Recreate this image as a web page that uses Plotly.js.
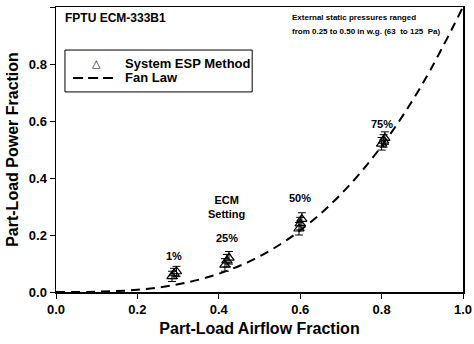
<!DOCTYPE html>
<html>
<head>
<meta charset="utf-8">
<script src="https://cdn.plot.ly/plotly-3.0.1.min.js"></script>
<style>html,body{margin:0;padding:0;background:#fff;}#chart{width:474px;height:344px;}</style>
</head>
<body>
<div id="chart"></div>
<script>
// Measured data (System ESP Method), grouped by ECM setting
const airflow = [0.285, 0.290, 0.296, 0.415, 0.420, 0.425, 0.597, 0.600, 0.604, 0.800, 0.805, 0.808];
const power   = [0.055, 0.065, 0.072, 0.095, 0.110, 0.120, 0.222, 0.240, 0.256, 0.520, 0.530, 0.540];
const powerErr = [0.018, 0.018, 0.018, 0.022, 0.022, 0.022, 0.022, 0.022, 0.022, 0.022, 0.022, 0.022];

// Fan law curve
const fanX = [0, 0.1, 0.2, 0.3, 0.4, 0.5, 0.6, 0.7, 0.8, 0.9, 1.0];
const fanY = [0, 0.001, 0.008, 0.027, 0.064, 0.125, 0.216, 0.343, 0.512, 0.729, 1.0];

// Annotation labels
const labelText = ["1%", "ECM<br>Setting", "25%", "50%", "75%"];
const labelX = [0.29, 0.42, 0.42, 0.60, 0.80];
const labelY = [0.128, 0.30, 0.19, 0.33, 0.59];

const tickVals = [0, 0.2, 0.4, 0.6, 0.8, 1.0];
const tickText = ["0.0", "0.2", "0.4", "0.6", "0.8", "1.0"];

const seriesNames = ["System ESP Method", "Fan Law"];

const FONT = "Liberation Sans, Arial, sans-serif";

const traces = [
  {
    x: airflow, y: power, type: "scatter", mode: "markers",
    name: seriesNames[0], showlegend: false,
    marker: {symbol: "triangle-up-open", size: 9, color: "#000", line: {width: 1.2, color: "#000"}},
    error_y: {type: "data", array: powerErr, visible: true, color: "#000", thickness: 1, width: 4},
    cliponaxis: false
  },
  {
    x: fanX, y: fanY, type: "scatter", mode: "lines",
    name: seriesNames[1], showlegend: false,
    line: {color: "#000", width: 2, dash: "9px,6px", shape: "spline", smoothing: 1}
  }
];

const annotations = labelText.map((t, i) => ({
  x: labelX[i], y: labelY[i], xref: "x", yref: "y", text: "<b>" + t + "</b>",
  showarrow: false, font: {family: FONT, size: 11, color: "#000"}
}));
annotations.push({
  x: 0.018, y: 0.962, xref: "paper", yref: "paper", xanchor: "left", yanchor: "middle",
  text: "<b>FPTU ECM-333B1</b>", showarrow: false, font: {family: FONT, size: 12, color: "#000"}
});
annotations.push({
  x: 0.575, y: 0.963, xref: "paper", yref: "paper", xanchor: "left", yanchor: "middle", align: "left",
  text: "<b>External static pressures ranged</b>",
  showarrow: false, font: {family: FONT, size: 8, color: "#000"}
});
annotations.push({
  x: 0.575, y: 0.914, xref: "paper", yref: "paper", xanchor: "left", yanchor: "middle", align: "left",
  text: "<b>from 0.25 to 0.50 in w.g. (63  to 125  Pa)</b>",
  showarrow: false, font: {family: FONT, size: 8, color: "#000"}
});
// Legend (drawn manually for tight row spacing)
annotations.push({
  x: 0.1007, y: 0.803, xref: "paper", yref: "paper", xanchor: "center", yanchor: "middle",
  text: "<b>△</b>", showarrow: false, font: {family: "DejaVu Sans", size: 11, color: "#000"}
});
annotations.push({
  x: 0.1646, y: 0.800, xref: "paper", yref: "paper", xanchor: "left", yanchor: "middle",
  text: "<b>" + seriesNames[0] + "</b>", showarrow: false, font: {family: FONT, size: 13, color: "#000"}
});
annotations.push({
  x: 0.1646, y: 0.751, xref: "paper", yref: "paper", xanchor: "left", yanchor: "middle",
  text: "<b>" + seriesNames[1] + "</b>", showarrow: false, font: {family: FONT, size: 13, color: "#000"}
});

const shapes = [
  {type: "rect", xref: "paper", yref: "paper", x0: 0.022, x1: 0.482, y0: 0.702, y1: 0.849,
   line: {color: "#000", width: 1}, fillcolor: "rgba(0,0,0,0)"},
  {type: "line", xref: "paper", yref: "paper", x0: 0.042, x1: 0.152, y0: 0.751, y1: 0.751,
   line: {color: "#000", width: 2, dash: "10px,5px"}}
];

const axisCommon = {
  range: [0, 1], tickvals: tickVals, ticktext: tickText,
  showline: true, linecolor: "#000", linewidth: 1.5, mirror: true,
  ticks: "outside", ticklen: 5, tickwidth: 1, tickcolor: "#000",
  showgrid: false, zeroline: false,
  tickfont: {family: FONT, size: 13, color: "#000", weight: "bold"}
};

const layout = {
  width: 474, height: 344,
  margin: {l: 56, r: 11, t: 7, b: 52},
  paper_bgcolor: "#fff", plot_bgcolor: "#fff",
  showlegend: false,
  xaxis: Object.assign({}, axisCommon, {
    title: {text: "<b>Part-Load Airflow Fraction</b>", font: {family: FONT, size: 16, color: "#000"}, standoff: 6}
  }),
  yaxis: Object.assign({}, axisCommon, {
    title: {text: "<b>Part-Load Power Fraction</b>", font: {family: FONT, size: 16, color: "#000"}, standoff: 6}
  }),
  annotations: annotations,
  shapes: shapes
};

Plotly.newPlot("chart", traces, layout, {displayModeBar: false, staticPlot: true});
</script>
</body>
</html>
